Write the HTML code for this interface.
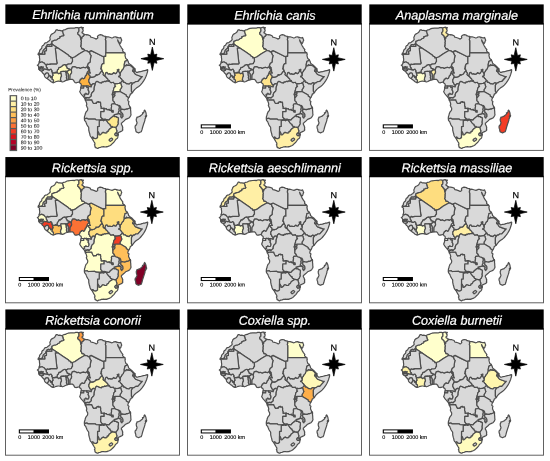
<!DOCTYPE html><html><head><meta charset="utf-8"><title>Prevalence maps</title><style>html,body{margin:0;padding:0;background:#fff}svg{display:block}text{font-family:"Liberation Sans",Arial,sans-serif}</style></head><body>
<svg width="550" height="461" viewBox="0 0 550 461">
<rect width="550" height="461" fill="#fff"/>
<defs>
<path id="DZA" d="M79.6,46.1 74.1,49.3 69.4,52.6 67.1,53.3 65.4,53.5 65.4,52.4 64.6,52.1 63.6,51.7 63.2,50.9 57.8,47.2 52.4,43.5 46.4,39.5 46.4,39.1 46.4,39 46.4,37 49,35.8 50.6,35.6 51.9,35.1 52.5,34.3 54.4,33.6 54.4,32.3 55.4,32.2 56.1,31.6 58.2,31.3 58.5,30.6 58.1,30.3 57.5,28.5 57.4,27.5 56.8,26.4 58.4,25.5 60.1,25.2 61.1,24.5 62.7,24 65.4,23.7 68,23.6 68.8,23.8 70.4,23.2 72.1,23.1 72.7,23.5 73.8,23.4 73.5,24.3 73.7,25.9 73.4,27.3 72.4,28.2 72.5,29.5 73.8,30.5 73.8,30.9 74.8,31.6 75.5,34.6 76,36.1 76.1,36.8 75.8,38.2 76,39 75.8,39.9 75.9,41 75.3,41.7 76.2,42.9 76.3,43.6 76.8,44.5 77.6,44.2 78.9,45Z"/>
<path id="AGO" d="M86.5,95.4 86.9,96.6 87.4,97.6 87.7,98.2 88.3,99.1 89.4,98.9 89.9,98.7 90.8,98.9 91.1,98.5 91.5,97.5 92.5,97.5 92.5,97.2 93.4,97.2 93.2,97.8 95.2,97.7 95.2,98.8 95.5,99.5 95.3,100.5 95.4,101.5 95.9,102.1 95.9,104.1 96.3,104 97,104 97.9,103.8 98.7,103.9 98.8,104.4 98.7,105.2 98.9,106 98.7,106.6 98.8,107.2 95.5,107.2 95.4,112.5 96.5,113.9 97.6,114.9 94.6,115.6 90.7,115.4 89.6,114.6 83.1,114.7 82.9,114.8 81.9,114 80.9,114 79.9,114.2 79.1,114.6 79,113.5 79.2,112 79.8,110.5 79.8,109.8 80.4,108.3 80.7,107.6 81.7,106.5 82.2,105.7 82.4,104.5 82.3,103.5 81.8,102.9 81.4,101.9 81,100.9 81.1,100.6 81.5,99.9 81.1,98.3 80.7,97.1 79.9,96.1 80.1,95.7 80.7,95.5 81.2,95.6 81.8,95.4ZM80.3,95 79.9,95.2 79.4,94 80.1,93.2 80.6,93 81.2,93.5 80.6,93.9 80.3,94.3Z"/>
<path id="BEN" d="M64.6,75 63.3,75.2 62.9,74 63,70.2 62.6,69.8 62.6,69 62,68.4 61.5,67.9 61.7,67 62.3,66.8 62.6,66.1 63.4,65.9 63.8,65.4 64.3,64.9 64.9,64.9 66.1,65.9 66,66.5 66.4,67.5 66.1,68.1 66.2,68.6 65.5,69.6 65,70.1 64.7,71.2 64.7,72.3Z"/>
<path id="BWA" d="M101.5,116.6 101.8,116.9 102.3,117.9 104.1,119.8 104.8,119.9 104.8,120.5 105.3,121.6 106.5,121.9 107.5,122.6 105.3,123.9 103.8,125.1 103.3,126.2 102.8,126.9 101.9,127 101.7,127.8 101.5,128.3 100.5,128.7 99.2,128.6 98.4,128.2 97.7,128 96.9,128.3 96.5,129.1 95.8,129.7 95,130.4 93.8,130.6 93.5,130 93.6,129 92.7,127.4 92.2,127.1 92.2,122.2 93.8,122.1 93.9,116.2 95.1,116.1 97.5,115.5 98.1,116.2 99.2,115.6 99.7,115.6 100.6,115.2 100.8,115.3Z"/>
<path id="BFA" d="M55.8,69.3 54.7,68.9 53.9,68.9 53.4,69.4 52.6,69 52.3,68.4 51.6,68.1 51.5,67.1 52,66.4 51.9,65.8 53.2,64.4 53.4,63.3 53.9,62.9 54.6,63.1 55.3,62.8 55.5,62.3 56.8,61.6 57.1,61 58.6,60.3 59.5,60.1 59.9,60.4 60.9,60.4 60.8,61.2 61,62 61.9,63.1 61.9,63.9 63.8,64.3 63.8,65.4 63.4,65.9 62.6,66.1 62.3,66.8 61.7,67 60.3,67 59.6,66.9 59.1,67.1 58.4,67 55.6,67.1 55.5,68Z"/>
<path id="BDI" d="M107.4,93.1 107.3,91 106.9,90.3 107.9,90.4 108.4,89.4 109.2,89.6 109.3,90.2 109.6,90.6 109.7,91.1 109.3,91.5 108.6,92.4 108.1,93Z"/>
<path id="CMR" d="M81.3,81.7 81.1,81.6 80.1,81.8 79.2,81.6 78.4,81.7 75.8,81.7 76,80.3 75.4,79.2 74.7,78.9 74.3,78.2 73.9,77.9 73.9,77.5 74.4,76.3 75.1,74.7 75.6,74.7 76.5,73.7 77.1,73.6 78,74.3 79.2,73.8 79.3,73.1 79.7,72.4 79.9,71.5 80.8,70.9 81.1,69.7 81.4,69.3 81.7,68.4 82.1,67.4 83.4,66.1 83.5,65.5 83.7,65.2 83.1,64.5 83.1,64 83.6,63.9 84.2,65 84.3,66.1 84.3,67.2 85.1,68.7 84.2,68.7 83.8,68.8 83,68.7 82.7,69.5 83.6,70.4 84.3,70.7 84.6,71.4 85.1,72.6 84.8,73 84,74.7 83.6,75 83.5,76.3 83.7,77 83.5,77.5 84.3,78.4 84.4,79 85,79.9 85.8,80.4 85.8,81.2 86,81.7 85.9,82.6 84.6,82.2 83.3,81.8Z"/>
<path id="CAF" d="M84.8,73 86.2,72.9 86.4,72.5 86.7,72.5 87.1,72.9 89.1,72.2 89.8,71.6 90.7,71 90.5,70.4 90.9,70.3 92.5,70.4 94,69.6 95.2,67.7 96,67.1 97,66.8 97.2,67.5 98.1,68.5 98.1,69.2 97.8,69.9 98,70.5 98.5,70.9 99.7,71.7 100.6,72.4 100.6,72.9 101.7,73.8 102.4,74.5 102.8,75.5 104,76.2 104.2,76.7 103.7,76.9 102.7,76.8 101.5,76.7 100.9,76.8 100.6,77.2 100.1,77.3 99.5,76.9 97.7,77.8 97,77.6 96.7,77.7 96.3,78.7 95.1,78.4 93.9,78.2 92.9,77.6 91.5,77 90.7,77.6 90.1,78.4 89.9,79.6 88.9,79.5 87.8,79.2 86.8,80.1 86,81.7 85.8,81.2 85.8,80.4 85,79.9 84.4,79 84.3,78.4 83.5,77.5 83.7,77 83.5,76.3 83.6,75 84,74.7Z"/>
<path id="TCD" d="M83.6,63.9 83.7,63.1 82.7,63.1 82.7,62 82,61.4 82.7,59.2 84.8,57.6 84.9,55.4 85.5,52 85.8,51.2 85.2,50.7 85.1,50.1 84.5,49.7 84.1,47.1 85.8,46.2 92.2,49.4 98.6,52.6 98.6,59.3 97.3,59.2 96.5,60.4 96.1,61.4 96.4,61.8 95.9,62.3 96.1,63 95.7,63.7 95.5,64.4 96.1,64.3 96.4,64.9 96.4,65.9 97,66.4 97,66.8 96,67.1 95.2,67.7 94,69.6 92.5,70.4 90.9,70.3 90.5,70.4 90.7,71 89.8,71.6 89.1,72.2 87.1,72.9 86.7,72.5 86.4,72.5 86.2,72.9 84.8,73 85.1,72.6 84.6,71.4 84.3,70.7 83.6,70.4 82.7,69.5 83,68.7 83.8,68.8 84.2,68.7 85.1,68.7 84.3,67.2 84.3,66.1 84.2,65Z"/>
<path id="COG" d="M81.2,93.5 80.6,93 80.1,93.2 79.4,94 78.1,92.2 79.3,91.3 78.7,90.1 79.3,89.7 80.4,89.5 80.5,88.8 81.3,89.6 82.8,89.7 83.3,88.9 83.5,87.7 83.3,86.4 82.5,85.4 83.2,83.5 82.8,83.2 81.6,83.3 81.2,82.4 81.3,81.7 83.3,81.8 84.6,82.2 85.9,82.6 86,81.7 86.8,80.1 87.8,79.2 88.9,79.5 89.9,79.6 89.8,80.6 89.3,81.5 89,82.6 88.8,84.1 88.9,85 88.7,85.6 88.6,86.2 88.4,86.7 87.4,87.6 86.6,88.4 85.9,90.1 86,91.4 85.6,92 84.6,92.8 83.7,93.8 83.1,93.6 83,93.1 82.1,93.1 81.6,93.7Z"/>
<path id="COD" d="M109.8,79.6 109.7,81.6 110.3,81.8 109.8,82.4 109.2,82.8 108.6,83.7 108.3,84.5 108.2,85.8 107.8,86.5 107.8,87.8 107.3,88.2 107.3,89.2 107,89.4 106.9,90.3 107.3,91 107.4,93.1 107.7,94.6 107.5,95.5 107.8,96.5 108.8,97.4 109.6,99.5 109,99.3 106.8,99.6 106.4,99.8 106,100.9 106.3,101.6 106,103.6 105.8,105.3 106.3,105.6 107.4,106.3 107.8,106 108,107.8 106.7,107.8 106.1,106.8 105.5,106.1 104.3,105.9 103.9,105 102.9,105.5 101.6,105.3 101.1,104.5 100.1,104.4 99.3,104.4 99.2,103.9 98.7,103.9 97.9,103.8 97,104 96.3,104 95.9,104.1 95.9,102.1 95.4,101.5 95.3,100.5 95.5,99.5 95.2,98.8 95.2,97.7 93.2,97.8 93.4,97.2 92.5,97.2 92.5,97.5 91.5,97.5 91.1,98.5 90.8,98.9 89.9,98.7 89.4,98.9 88.3,99.1 87.7,98.2 87.4,97.6 86.9,96.6 86.5,95.4 81.8,95.4 81.2,95.6 80.7,95.5 80.1,95.7 79.9,95.2 80.3,95 80.3,94.3 80.6,93.9 81.2,93.5 81.6,93.7 82.1,93.1 83,93.1 83.1,93.6 83.7,93.8 84.6,92.8 85.6,92 86,91.4 85.9,90.1 86.6,88.4 87.4,87.6 88.4,86.7 88.6,86.2 88.7,85.6 88.9,85 88.8,84.1 89,82.6 89.3,81.5 89.8,80.6 89.9,79.6 90.1,78.4 90.7,77.6 91.5,77 92.9,77.6 93.9,78.2 95.1,78.4 96.3,78.7 96.7,77.7 97,77.6 97.7,77.8 99.5,76.9 100.1,77.3 100.6,77.2 100.9,76.8 101.5,76.7 102.7,76.8 103.7,76.9 104.2,76.7 105.2,78.1 105.9,78.3 106.4,78 107.1,78.1 108,77.8 108.4,78.5Z"/>
<path id="CIV" d="M55.7,77.1 55,77.1 53.9,76.8 52.8,76.8 50.9,77.1 49.8,77.6 48.2,78.2 47.9,78.2 48,76.8 48.2,76.6 48.1,75.9 47.5,75.2 47,75.1 46.5,74.6 46.8,73.9 46.7,73.1 46.8,72.6 47,72.6 47.1,71.9 47,71.5 47.1,71.3 47.7,71.1 47.3,69.7 47,69.1 47.1,68.5 47.4,68.4 47.6,68.2 48.1,68.5 49.3,68.5 49.6,68 49.9,68 50.3,67.8 50.6,68.5 51,68.3 51.6,68.1 52.3,68.4 52.6,69 53.4,69.4 53.9,68.9 54.7,68.9 55.8,69.3 56.2,71.7 55.5,73.1 55.1,75 55.8,76.4Z"/>
<path id="DJI" d="M129.4,64.2 129.8,64.7 129.8,65.4 128.9,65.8 129.5,66.2 129,67.1 128.6,66.8 128.2,67 127.3,66.9 127.3,66.4 127.2,66 127.7,65.2 128.3,64.4 129,64.6Z"/>
<path id="EGY" d="M119.5,48.5 113.1,48.5 106.9,48.5 100.4,48.5 100.4,42.4 100.4,36.4 99.9,35 100.4,34 100.1,33.3 100.7,32.5 102.8,32.4 104.4,32.9 106,33.4 106.7,33.6 107.9,33.1 108.6,32.6 110,32.5 111.2,32.7 111.6,33.5 112,33 113.3,33.4 114.5,33.5 115.3,33.1 116.4,35.9 115.9,36.6 115.6,37.9 115.1,38.8 114.7,39.1 114.2,38.5 113.5,37.8 112.3,35.4 112.2,35.5 112.8,37.3 113.8,39 115,41.6 115.6,42.5 116.1,43.4 117.6,45.3 117.3,45.6 117.3,46.7 119.2,48.2Z"/>
<path id="GNQ" d="M75.8,81.7 78.4,81.7 78.4,83.7 76.1,83.7 75.5,83.8 75.2,83.5Z"/>
<path id="ERI" d="M118.8,61.3 118.6,60.6 119.3,58.1 119.4,57 120,56.5 121.1,56.2 121.9,55.3 122.9,57.2 123.3,58.7 124.2,59.6 126.4,61.2 127.3,62.1 128.2,63.1 128.7,63.7 129.4,64.2 129,64.6 128.3,64.4 127.7,63.9 127.1,62.9 126.4,62.4 125.9,61.8 124.5,61.1 123.4,61.1 123.1,60.7 122.1,61.1 121.1,60.4 120.6,61.6Z"/>
<path id="ETH" d="M137,72.1 132.5,77.1 130.4,77.2 128.9,78.4 127.9,78.4 127.5,78.9 126.4,78.9 125.7,78.3 124.3,79.1 123.8,79.8 122.7,79.6 122.4,79.4 122,79.5 121.5,79.5 119.5,78 118.3,78 117.8,77.5 117.8,76.5 117,76.2 116,74.4 115.3,74 115,73.4 114.2,72.5 113.2,72.4 113.7,71.5 114.6,71.4 114.8,70.9 114.8,69.4 115.3,67.6 116,67.2 116.2,66.5 116.9,65.2 117.9,64.4 118.5,62.7 118.8,61.3 120.6,61.6 121.1,60.4 122.1,61.1 123.1,60.7 123.4,61.1 124.5,61.1 125.9,61.8 126.4,62.4 127.1,62.9 127.7,63.9 128.3,64.4 127.7,65.2 127.2,66 127.3,66.4 127.3,66.9 128.2,67 128.6,66.8 129,67.1 128.6,67.7 129.2,68.7 129.8,69.5 130.4,70.1 135.7,72.1Z"/>
<path id="GAB" d="M78.4,81.7 79.2,81.6 80.1,81.8 81.1,81.6 81.3,81.7 81.2,82.4 81.6,83.3 82.8,83.2 83.2,83.5 82.5,85.4 83.3,86.4 83.5,87.7 83.3,88.9 82.8,89.7 81.3,89.6 80.5,88.8 80.4,89.5 79.3,89.7 78.7,90.1 79.3,91.3 78.1,92.2 76.5,90.5 75.4,89.1 74.4,87.4 74.5,86.8 74.8,86.3 75.2,85 75.5,83.8 76.1,83.7 78.4,83.7Z"/>
<path id="GMB" d="M33.3,63.4 33.5,62.7 35.2,62.6 35.6,62.2 36.1,62.2 36.7,62.6 37.2,62.6 37.8,62.3 38.1,62.8 37.4,63.2 36.7,63.2 36,62.8 35.4,63.2 35.1,63.2 34.7,63.4Z"/>
<path id="GHA" d="M62,75.5 59.5,76.5 58.6,77.1 57.1,77.6 55.7,77.1 55.8,76.4 55.1,75 55.5,73.1 56.2,71.7 55.8,69.3 55.5,68 55.6,67.1 58.4,67 59.1,67.1 59.6,66.9 60.3,67 60.2,67.5 60.9,68.4 60.9,69.6 61,70.9 61.4,71.5 61.1,73 61.2,73.9 61.6,74.9Z"/>
<path id="GIN" d="M38.3,64.4 39.1,64.4 40.2,64.8 40.6,64.7 40.7,64.6 41.6,64.7 41.8,64.6 41.9,65.2 42.2,65.2 42.6,65 42.9,65 43.3,65.5 44,65.6 44.4,65.2 44.9,65 45.3,64.8 45.7,64.8 46,65.2 46.2,65.7 46.9,66.4 46.5,66.8 46.5,67.3 46.8,67.2 47,67.4 46.9,67.9 47.4,68.4 47.1,68.5 47,69.1 47.3,69.7 47.7,71.1 47.1,71.3 47,71.5 47.1,71.9 47,72.6 46.8,72.6 46.3,72.5 46,73.2 45.5,73.2 45.2,72.9 45.3,72.2 44.6,71.2 44.2,71.3 43.9,71.4 43.4,71.5 43.5,70.9 43.2,70.4 43.3,69.9 42.9,69.2 42.5,68.6 41.2,68.6 40.8,68.9 40.4,69 40.1,69.3 39.9,69.8 39,70.5 38.3,69.5 37.7,68.9 37.3,68.7 36.9,68.3 36.7,67.6 36.5,67.2 36,67 36.7,66.1 37.2,66.2 37.6,65.9 38,65.9 38.2,65.7 38.1,65.1 38.3,64.9Z"/>
<path id="GNB" d="M33.5,64.7 34.4,64.4 34.9,64.5 35.3,64.3 38.3,64.4 38.3,64.9 38.1,65.1 38.2,65.7 38,65.9 37.6,65.9 37.2,66.2 36.7,66.1 36,67 35.2,66.2 34.5,66.1 34.1,65.7 34.1,65.4 33.6,65.1Z"/>
<path id="KEN" d="M123.2,93.4 120.9,91.7 120.8,90.7 115,87.3 114.7,87.1 114.7,85.3 115.2,84.6 115.9,83.5 116.5,82.3 115.8,80.4 115.6,79.5 114.9,78.4 115.9,77.4 117,76.2 117.8,76.5 117.8,77.5 118.3,78 119.5,78 121.5,79.5 122,79.5 122.4,79.4 122.7,79.6 123.8,79.8 124.3,79.1 125.7,78.3 126.4,78.9 127.5,78.9 126.1,80.8 126.1,86.9 127,88.3 125.9,89 125.5,89.7 124.9,89.8 124.7,91 124.2,91.7 123.9,92.8Z"/>
<path id="LBR" d="M47.9,78.2 47.5,78.2 45.8,77.4 44.4,76.1 43,75.2 41.9,74.1 42.3,73.6 42.4,73.1 43.1,72.2 43.9,71.4 44.2,71.3 44.6,71.2 45.3,72.2 45.2,72.9 45.5,73.2 46,73.2 46.3,72.5 46.8,72.6 46.7,73.1 46.8,73.9 46.5,74.6 47,75.1 47.5,75.2 48.1,75.9 48.2,76.6 48,76.8Z"/>
<path id="LBY" d="M100.4,48.5 100.4,51.9 98.6,51.9 98.6,52.6 92.2,49.4 85.8,46.2 84.1,47.1 83,47.7 82.1,46.8 79.6,46.1 78.9,45 77.6,44.2 76.8,44.5 76.3,43.6 76.2,42.9 75.3,41.7 75.9,41 75.8,39.9 76,39 75.8,38.2 76.1,36.8 76,36.1 75.5,34.6 76.3,34.2 76.4,33.5 76.3,32.8 77.4,32.1 77.9,31.6 78.6,31.1 78.7,29.8 80.6,30.4 81.3,30.3 82.6,30.5 84.8,31.3 85.5,32.8 87,33.1 89.2,33.8 90.9,34.7 91.7,34.2 92.5,33.4 92.1,32.2 92.6,31.3 93.8,30.6 94.9,30.3 97,30.7 97.6,31.4 98.2,31.4 98.7,31.7 100.3,31.9 100.7,32.5 100.1,33.3 100.4,34 99.9,35 100.4,36.4 100.4,42.4Z"/>
<path id="MDG" d="M139.8,106.4 140.2,107.2 140.6,108.3 140.9,110.3 141.3,111.1 141.2,111.9 140.9,112.4 140.3,111.4 140,111.9 140.3,113.1 140.2,113.8 139.7,114.2 139.6,115.7 139,117.6 138.2,119.9 137.2,123.1 136.6,125.5 135.9,127.4 134.6,127.8 133.2,128.5 132.3,128.1 131,127.5 130.5,126.6 130.4,125.1 129.9,123.8 129.7,122.6 130,121.3 130.7,121.1 130.8,120.5 131.5,119.2 131.7,118.2 131.3,117.4 131,116.3 130.9,114.7 131.4,113.8 131.6,112.7 132.4,112.7 133.3,112.3 133.9,112 134.6,112 135.5,111.1 136.9,110 137.3,109.2 137.1,108.5 137.8,108.7 138.7,107.5 138.7,106.5 139.3,105.7Z"/>
<path id="MWI" d="M112.9,101 114.5,101.3 114.8,101.8 115.3,102.6 115.8,104.9 115.3,106.1 115.8,108.3 116.3,108.3 116.9,108.8 117.6,110 117.7,112.2 117,112.6 116.5,113.7 115.5,112.7 115.4,111.5 115.7,110.7 115.6,110 115,109.6 114.5,109.8 113.6,109 112.8,108.5 113.3,107 113.8,106.4 113.4,105 113.8,103.6 114,103.2 113.6,101.8Z"/>
<path id="MLI" d="M41.8,64.6 41.9,64.1 41.8,63.4 41.2,63 40.8,62 40.8,60.9 41.3,60.6 41.6,59.6 42.1,59.6 43.2,60.1 44.1,59.7 44.7,59.9 45,59.5 51.4,59.5 51.8,58.3 51.5,58.1 50.7,50.8 49.9,43.6 52.4,43.5 57.8,47.2 63.2,50.9 63.6,51.7 64.6,52.1 65.4,52.4 65.4,53.5 67.1,53.3 67.2,57.2 66.3,58.3 66.1,59.3 64.7,59.6 62.5,59.8 61.9,60.4 60.9,60.4 59.9,60.4 59.5,60.1 58.6,60.3 57.1,61 56.8,61.6 55.5,62.3 55.3,62.8 54.6,63.1 53.9,62.9 53.4,63.3 53.2,64.4 51.9,65.8 52,66.4 51.5,67.1 51.6,68.1 51,68.3 50.6,68.5 50.3,67.8 49.9,68 49.6,68 49.3,68.5 48.1,68.5 47.6,68.2 47.4,68.4 46.9,67.9 47,67.4 46.8,67.2 46.5,67.3 46.5,66.8 46.9,66.4 46.2,65.7 46,65.2 45.7,64.8 45.3,64.8 44.9,65 44.4,65.2 44,65.6 43.3,65.5 42.9,65 42.6,65 42.2,65.2 41.9,65.2Z"/>
<path id="MRT" d="M32.9,50.2 33.3,49.7 39.5,49.7 39.2,47.2 39.6,46.4 41.1,46.2 41.1,41.9 46.4,42 46.4,39.5 52.4,43.5 49.9,43.6 50.7,50.8 51.5,58.1 51.8,58.3 51.4,59.5 45,59.5 44.7,59.9 44.1,59.7 43.2,60.1 42.1,59.6 41.6,59.6 41.3,60.6 40.8,60.9 39.7,59.8 38.7,58.6 37.7,58.1 36.9,57.6 36,57.6 35.2,58 34.4,57.9 33.9,58.4 33.7,57.5 34.2,56.7 34.4,55.1 34.2,53.4 34,52.6 34.2,51.7 33.8,50.9Z"/>
<path id="MAR" d="M56.8,26.4 57.4,27.5 57.5,28.5 58.1,30.3 58.5,30.6 58.2,31.3 56.1,31.6 55.4,32.2 54.4,32.3 54.4,33.6 52.5,34.3 51.9,35.1 50.6,35.6 49,35.8 46.4,37 46.4,39 46.1,39 46.2,39.9 45.2,40 44.7,40.4 43.9,40.4 43.4,40.2 42,40.3 41.5,41.6 41,41.8 40.2,43.9 38,45.7 37.5,48 36.8,48.8 36.6,49.4 33,49.5 33.1,48.7 33.7,48.3 34.2,47.4 34.1,46.8 34.6,45.6 35.5,44.6 36.1,44.3 36.5,43.3 36.5,42.4 37.1,41.4 38.2,40.8 39.2,39.1 39.2,39 40,38.4 41.5,38.2 42.8,37.1 43.6,36.6 44.9,35.2 44.5,33.1 45.2,31.7 45.4,30.8 46.4,29.7 48,28.9 49.2,28.2 50.3,26.5 50.8,25.4 52,25.4 52.9,26.1 54.5,26 56.1,26.4Z"/>
<path id="ESH" d="M46.4,39 46.4,39.1 46.4,39.5 46.4,42 41.1,41.9 41.1,46.2 39.6,46.4 39.2,47.2 39.5,49.7 33.3,49.7 32.9,50.2 33,49.5 36.6,49.4 36.8,48.8 37.5,48 38,45.7 40.2,43.9 41,41.8 41.5,41.6 42,40.3 43.4,40.2 43.9,40.4 44.7,40.4 45.2,40 46.2,39.9 46.1,39Z"/>
<path id="MOZ" d="M115.8,104.9 117,104.7 118.9,105.2 119.3,105 120.4,104.9 121,104.4 122,104.5 123.7,103.8 125,102.8 125.3,103.6 125.2,105.3 125.4,106.7 125.5,109.4 125.7,110.2 125.3,111.4 124.6,112.5 123.6,113.6 122.2,114.2 120.3,115 118.5,116.8 117.9,117.2 116.8,118.3 116.1,118.7 116,119.9 116.8,121.2 117.1,122.2 117.1,122.7 117.4,122.6 117.3,124.3 117.1,125 117.5,125.3 117.2,126 116.5,126.6 115.2,127.2 113.3,128.1 112.6,128.7 112.7,129.4 113.1,129.5 113,130.4 111.8,130.4 111.6,129.7 111.4,128.9 111.3,128.3 111.5,126.4 111.1,125.2 110.4,122.9 112.1,121 112.5,119.8 112.7,119.6 112.9,118.6 112.6,118.1 112.7,116.9 113,115.7 113,113.6 112.2,113 111.4,112.9 111.1,112.5 110.3,112.1 109,112.2 108.9,111.6 108.7,110.4 113.6,109 114.5,109.8 115,109.6 115.6,110 115.7,110.7 115.4,111.5 115.5,112.7 116.5,113.7 117,112.6 117.7,112.2 117.6,110 116.9,108.8 116.3,108.3 115.8,108.3 115.3,106.1Z"/>
<path id="NAM" d="M92.2,127.1 92.2,133.3 90.8,134.2 89.9,134.3 88.9,134 88.2,133.9 87.9,133.1 87.3,132.7 86.5,133.5 85.3,132.2 84.7,131 84.4,129.4 84,128.2 83.4,125.6 83.4,123.6 83.2,122.6 82.6,122 81.7,120.6 80.9,118.6 80.5,117.5 79.2,115.9 79.1,114.6 79.9,114.2 80.9,114 81.9,114 82.9,114.8 83.1,114.7 89.6,114.6 90.7,115.4 94.6,115.6 97.6,114.9 98.9,114.6 99.9,114.7 100.5,115 100.6,115.2 99.7,115.6 99.2,115.6 98.1,116.2 97.5,115.5 95.1,116.1 93.9,116.2 93.8,122.1 92.2,122.2Z"/>
<path id="NER" d="M84.1,47.1 84.5,49.7 85.1,50.1 85.2,50.7 85.8,51.2 85.5,52 84.9,55.4 84.8,57.6 82.7,59.2 82,61.4 82.7,62 82.7,63.1 83.7,63.1 83.6,63.9 83.1,64 83.1,64.5 82.8,64.6 81.7,62.7 81.3,62.7 80,63.6 78.8,63.1 77.9,63 77.5,63.2 76.5,63.2 75.6,63.9 74.8,64 72.8,63.1 72.1,63.5 71.2,63.5 70.6,62.8 69,62.2 67.3,62.4 66.9,62.8 66.7,63.7 66.2,64.4 66.1,65.9 64.9,64.9 64.3,64.9 63.8,65.4 63.8,64.3 61.9,63.9 61.9,63.1 61,62 60.8,61.2 60.9,60.4 61.9,60.4 62.5,59.8 64.7,59.6 66.1,59.3 66.3,58.3 67.2,57.2 67.1,53.3 69.4,52.6 74.1,49.3 79.6,46.1 82.1,46.8 83,47.7Z"/>
<path id="NGA" d="M64.6,75 64.7,72.3 64.7,71.2 65,70.1 65.5,69.6 66.2,68.6 66.1,68.1 66.4,67.5 66,66.5 66.1,65.9 66.2,64.4 66.7,63.7 66.9,62.8 67.3,62.4 69,62.2 70.6,62.8 71.2,63.5 72.1,63.5 72.8,63.1 74.8,64 75.6,63.9 76.5,63.2 77.5,63.2 77.9,63 78.8,63.1 80,63.6 81.3,62.7 81.7,62.7 82.8,64.6 83.1,64.5 83.7,65.2 83.5,65.5 83.4,66.1 82.1,67.4 81.7,68.4 81.4,69.3 81.1,69.7 80.8,70.9 79.9,71.5 79.7,72.4 79.3,73.1 79.2,73.8 78,74.3 77.1,73.6 76.5,73.7 75.6,74.7 75.1,74.7 74.4,76.3 73.9,77.5 72.3,78.1 71.7,78 71.1,78.4 69.8,78.3 68.9,77.3 68.4,76.1 67.2,75 66,75Z"/>
<path id="RWA" d="M109.1,87.4 109.8,88.4 109.7,89.3 109.2,89.6 108.4,89.4 107.9,90.4 106.9,90.3 107,89.4 107.3,89.2 107.3,88.2 107.8,87.8 108.2,87.9Z"/>
<path id="SEN" d="M33.5,62.7 32.8,61.4 32,60.8 32.7,60.4 33.5,59.3 33.9,58.4 34.4,57.9 35.2,58 36,57.6 36.9,57.6 37.7,58.1 38.7,58.6 39.7,59.8 40.8,60.9 40.8,62 41.2,63 41.8,63.4 41.9,64.1 41.8,64.6 41.6,64.7 40.7,64.6 40.6,64.7 40.2,64.8 39.1,64.4 38.3,64.4 35.3,64.3 34.9,64.5 34.4,64.4 33.5,64.7 33.3,63.4 34.7,63.4 35.1,63.2 35.4,63.2 36,62.8 36.7,63.2 37.4,63.2 38.1,62.8 37.8,62.3 37.2,62.6 36.7,62.6 36.1,62.2 35.6,62.2 35.2,62.6Z"/>
<path id="SLE" d="M41.9,74.1 41.5,74 40.4,73.3 39.5,72.4 39.2,71.8 39,70.5 39.9,69.8 40.1,69.3 40.4,69 40.8,68.9 41.2,68.6 42.5,68.6 42.9,69.2 43.3,69.9 43.2,70.4 43.5,70.9 43.4,71.5 43.9,71.4 43.1,72.2 42.4,73.1 42.3,73.6Z"/>
<path id="SOM" d="M127,88.3 126.1,86.9 126.1,80.8 127.5,78.9 127.9,78.4 128.9,78.4 130.4,77.2 132.5,77.1 137,72.1 135.7,72.1 130.4,70.1 129.8,69.5 129.2,68.7 128.6,67.7 129,67.1 129.5,66.2 130.1,66.6 130.4,67.2 131.1,68 131.9,68 133.4,67.5 135.2,67.3 136.6,66.8 137.4,66.7 137.9,66.4 138.9,66.3 139.4,66.3 140.1,66 141,65.9 141.7,65.3 142.3,65.3 142.4,65.8 142.2,66.7 142.2,67.6 141.9,68.2 141.4,70 140.7,71.9 139.7,74.1 138.3,76.5 136.9,78.4 135,80.7 133.4,82.1 131,83.7 129.5,85 127.8,87 127.4,87.9Z"/>
<path id="ZAF" d="M86.5,133.5 87.3,132.7 87.9,133.1 88.2,133.9 88.9,134 89.9,134.3 90.8,134.2 92.2,133.3 92.2,127.1 92.7,127.4 93.6,129 93.5,130 93.8,130.6 95,130.4 95.8,129.7 96.5,129.1 96.9,128.3 97.7,128 98.4,128.2 99.2,128.6 100.5,128.7 101.5,128.3 101.7,127.8 101.9,127 102.8,126.9 103.3,126.2 103.8,125.1 105.3,123.9 107.5,122.6 108.2,122.6 109,122.9 109.5,122.7 110.4,122.9 111.1,125.2 111.5,126.4 111.3,128.3 111.4,128.9 110.6,128.6 110.1,128.7 110,129.2 109.5,129.8 109.6,130.4 110.5,131.3 111.4,131.2 111.8,130.4 113,130.4 112.6,131.6 112.4,133 112,133.8 110.9,134.7 110.6,134.9 109.9,135.7 109.4,136.6 108.5,137.8 106.7,139.5 105.6,140.6 104.4,141.3 102.7,142 101.9,142.1 101.7,142.5 100.7,142.3 99.9,142.6 98.2,142.3 97.2,142.5 96.5,142.4 94.9,143.1 93.5,143.3 92.5,144 91.8,144 91.1,143.4 90.6,143.4 89.9,142.6 89.8,142.8 89.6,142.4 89.6,141.4 89.1,140.3 89.6,140 89.5,138.7 88.5,137.1 87.7,135.7Z"/>
<path id="SSD" d="M109.8,79.6 108.4,78.5 108,77.8 107.1,78.1 106.4,78 105.9,78.3 105.2,78.1 104.2,76.7 104,76.2 102.8,75.5 102.4,74.5 101.7,73.8 100.6,72.9 100.6,72.4 99.7,71.7 98.6,71 99.1,70.8 99.7,70.5 100.1,69 100.5,68.2 101.7,68 102,68.5 102.8,69.5 103.2,69.6 103.8,69.3 105,69.4 105.2,69.7 106.8,69.7 106.8,69.4 107.7,69 107.8,68.6 108.4,68.2 109.8,69.2 110.6,69 111.4,67.8 112.3,66.9 112.2,65.9 111.8,65.4 112.7,65.3 112.9,64.9 113.6,65 113.4,66.3 113.6,67.5 114.4,68.2 114.6,68.7 114.6,69.6 114.8,69.6 114.8,70.9 114.6,71.4 113.7,71.5 113.2,72.4 114.2,72.5 115,73.4 115.3,74 116,74.4 117,76.2 115.9,77.4 114.9,78.4 113.9,79.1 112.8,79.1 111.5,79.5 110.4,79.1Z"/>
<path id="SDN" d="M99.7,71.7 98.5,70.9 98,70.5 97.8,69.9 98.1,69.2 98.1,68.5 97.2,67.5 97,66.8 97,66.4 96.4,65.9 96.4,64.9 96.1,64.3 95.5,64.4 95.7,63.7 96.1,63 95.9,62.3 96.4,61.8 96.1,61.4 96.5,60.4 97.3,59.2 98.6,59.3 98.6,52.6 98.6,51.9 100.4,51.9 100.4,48.5 106.9,48.5 113.1,48.5 119.5,48.5 120,50.2 119.6,50.5 119.9,52.2 120.5,54.2 121.1,54.6 121.9,55.3 121.1,56.2 120,56.5 119.4,57 119.3,58.1 118.6,60.6 118.8,61.3 118.5,62.7 117.9,64.4 116.9,65.2 116.2,66.5 116,67.2 115.3,67.6 114.8,69.4 114.8,69.6 114.6,69.6 114.6,68.7 114.4,68.2 113.6,67.5 113.4,66.3 113.6,65 112.9,64.9 112.7,65.3 111.8,65.4 112.2,65.9 112.3,66.9 111.4,67.8 110.6,69 109.8,69.2 108.4,68.2 107.8,68.6 107.7,69 106.8,69.4 106.8,69.7 105.2,69.7 105,69.4 103.8,69.3 103.2,69.6 102.8,69.5 102,68.5 101.7,68 100.5,68.2 100.1,69 99.7,70.5 99.1,70.8 98.6,71Z"/>
<path id="TZA" d="M114.7,87.1 115,87.3 120.8,90.7 120.9,91.7 123.2,93.4 122.5,95.4 122.6,96.4 123.6,97 123.6,97.4 123.2,98.4 123.3,99 123.2,99.8 123.8,100.8 124.4,102.5 125,102.8 123.7,103.8 122,104.5 121,104.4 120.4,104.9 119.3,105 118.9,105.2 117,104.7 115.8,104.9 115.3,102.6 114.8,101.8 114.5,101.3 112.9,101 112,100.5 110.9,100.2 110.3,99.9 109.6,99.5 108.8,97.4 107.8,96.5 107.5,95.5 107.7,94.6 107.4,93.1 108.1,93 108.6,92.4 109.3,91.5 109.7,91.1 109.6,90.6 109.3,90.2 109.2,89.6 109.7,89.3 109.8,88.4 109.1,87.4 109.7,87.2 111.4,87.2Z"/>
<path id="TGO" d="M61.7,67 61.5,67.9 62,68.4 62.6,69 62.6,69.8 63,70.2 62.9,74 63.3,75.2 62,75.5 61.6,74.9 61.2,73.9 61.1,73 61.4,71.5 61,70.9 60.9,69.6 60.9,68.4 60.2,67.5 60.3,67Z"/>
<path id="TUN" d="M75.5,34.6 74.8,31.6 73.8,30.9 73.8,30.5 72.5,29.5 72.4,28.2 73.4,27.3 73.7,25.9 73.5,24.3 73.8,23.4 75.6,22.8 76.7,23 76.6,23.8 78,23.2 78.1,23.5 77.3,24.3 77.3,25.1 77.9,25.5 77.6,27 76.6,27.8 76.9,28.7 77.7,28.8 78.1,29.6 78.7,29.8 78.6,31.1 77.9,31.6 77.4,32.1 76.3,32.8 76.4,33.5 76.3,34.2Z"/>
<path id="UGA" d="M114.7,87.1 111.4,87.2 109.7,87.2 109.1,87.4 108.2,87.9 107.8,87.8 107.8,86.5 108.2,85.8 108.3,84.5 108.6,83.7 109.2,82.8 109.8,82.4 110.3,81.8 109.7,81.6 109.8,79.6 110.4,79.1 111.5,79.5 112.8,79.1 113.9,79.1 114.9,78.4 115.6,79.5 115.8,80.4 116.5,82.3 115.9,83.5 115.2,84.6 114.7,85.3Z"/>
<path id="ZMB" d="M109.6,99.5 110.3,99.9 110.9,100.2 112,100.5 112.9,101 113.6,101.8 114,103.2 113.8,103.6 113.4,105 113.8,106.4 113.3,107 112.8,108.5 113.6,109 108.7,110.4 108.9,111.6 107.7,111.8 106.8,112.5 106.6,113 106,113.2 104.6,114.5 103.7,115.6 103.2,115.7 102.6,115.5 100.8,115.3 100.6,115.2 100.5,115 99.9,114.7 98.9,114.6 97.6,114.9 96.5,113.9 95.4,112.5 95.5,107.2 98.8,107.2 98.7,106.6 98.9,106 98.7,105.2 98.8,104.4 98.7,103.9 99.2,103.9 99.3,104.4 100.1,104.4 101.1,104.5 101.6,105.3 102.9,105.5 103.9,105 104.3,105.9 105.5,106.1 106.1,106.8 106.7,107.8 108,107.8 107.8,106 107.4,106.3 106.3,105.6 105.8,105.3 106,103.6 106.3,101.6 106,100.9 106.4,99.8 106.8,99.6 109,99.3Z"/>
<path id="ZWE" d="M110.4,122.9 109.5,122.7 109,122.9 108.2,122.6 107.5,122.6 106.5,121.9 105.3,121.6 104.8,120.5 104.8,119.9 104.1,119.8 102.3,117.9 101.8,116.9 101.5,116.6 100.8,115.3 102.6,115.5 103.2,115.7 103.7,115.6 104.6,114.5 106,113.2 106.6,113 106.8,112.5 107.7,111.8 108.9,111.6 109,112.2 110.3,112.1 111.1,112.5 111.4,112.9 112.2,113 113,113.6 113,115.7 112.7,116.9 112.6,118.1 112.9,118.6 112.7,119.6 112.5,119.8 112.1,121Z"/>
<path id="SWZ" d="M111.8,130.4 111.4,131.2 110.5,131.3 109.6,130.4 109.5,129.8 110,129.2 110.1,128.7 110.6,128.6 111.4,128.9 111.6,129.7Z"/>
<path id="LSO" d="M106.8,134.1 107.4,134.7 106.9,135.5 106.6,136 105.7,136.3 105.4,136.8 104.8,137 103.6,135.7 104.5,134.6 105.4,134 106.1,133.6Z"/>
<g id="comp"><path d="M0,-11.7 L1.7,-3.9 L4.6,-4.6 L3.9,-1.7 L11.4,0 L3.9,1.7 L4.6,4.6 L1.7,3.9 L0,11.7 L-1.7,3.9 L-4.6,4.6 L-3.9,1.7 L-11.4,0 L-3.9,-1.7 L-4.6,-4.6 L-1.7,-3.9 Z" fill="#000" stroke="#000" stroke-width="0.7" stroke-linejoin="round"/><text transform="skewY(0.05)" x="0" y="-13.8" font-size="9.1" text-anchor="middle" fill="#000" stroke="#000" stroke-width="0.2">N</text></g>
<g id="sbar"><rect x="0" y="0" width="30.2" height="4.05" fill="#000"/><rect x="1.1" y="1" width="13.6" height="2.05" fill="#fff"/><g font-size="5.45" fill="#000" stroke="#000" stroke-width="0.12"><text transform="skewY(0.05)" x="1" y="9.55" text-anchor="middle">0</text><text transform="skewY(0.05)" x="15.1" y="9.55" text-anchor="middle">1000</text><text transform="skewY(0.05)" x="23.5" y="9.55">2000 km</text></g></g>
</defs>
<g transform="translate(5.35,4.4)">
<rect x="0" y="0" width="174.4" height="19.5" fill="#000"/>
<text transform="skewY(0.05)" x="87.6" y="14.7" font-size="12.65" font-style="italic" fill="#fff" stroke="#fff" stroke-width="0.18" text-anchor="middle">Ehrlichia ruminantium</text>
<g transform="translate(0,0)" fill="#d9d9d9" stroke="#4e4e4e" stroke-width="1.2" stroke-linejoin="round">
<use href="#DZA"/>
<use href="#AGO"/>
<use href="#BEN" fill="#FFFBBE"/>
<use href="#BWA"/>
<use href="#BFA" fill="#FFFBBE"/>
<use href="#BDI"/>
<use href="#CMR" fill="#FDB242"/>
<use href="#CAF"/>
<use href="#TCD"/>
<use href="#COG"/>
<use href="#COD"/>
<use href="#CIV" fill="#FFFBBE"/>
<use href="#DJI"/>
<use href="#EGY"/>
<use href="#GNQ"/>
<use href="#ERI"/>
<use href="#ETH"/>
<use href="#GAB"/>
<use href="#GMB"/>
<use href="#GHA"/>
<use href="#GIN"/>
<use href="#GNB"/>
<use href="#KEN"/>
<use href="#LBR"/>
<use href="#LBY"/>
<use href="#MDG"/>
<use href="#MWI"/>
<use href="#MLI"/>
<use href="#MRT"/>
<use href="#MAR"/>
<use href="#ESH"/>
<use href="#MOZ"/>
<use href="#NAM"/>
<use href="#NER"/>
<use href="#NGA"/>
<use href="#RWA"/>
<use href="#SEN"/>
<use href="#SLE"/>
<use href="#SOM"/>
<use href="#ZAF" fill="#FFF9B4"/>
<use href="#SSD"/>
<use href="#SDN" fill="#FFFFCC"/>
<use href="#TZA"/>
<use href="#TGO"/>
<use href="#TUN"/>
<use href="#UGA" fill="#FFFFCC"/>
<use href="#ZMB"/>
<use href="#ZWE" fill="#FEE98F"/>
<use href="#SWZ"/>
<use href="#LSO"/>
</g>
<use href="#comp" x="147.0" y="54.3"/>
<text transform="skewY(0.05)" x="2.8" y="86.9" font-size="4.8" fill="#222" stroke="#222" stroke-width="0.05">Prevalence (%)</text>
<rect x="4.2" y="90.7" width="7.6" height="56.0" fill="#5a5a5a"/>
<rect x="5.6" y="91.85" width="4.9" height="4.3" fill="#FFFFCC"/>
<text transform="skewY(0.05)" x="15.3" y="95.90" font-size="5.2" fill="#1a1a1a" stroke="#1a1a1a" stroke-width="0.08">0 to 10</text>
<rect x="5.6" y="97.33" width="4.9" height="4.3" fill="#FFEFA5"/>
<text transform="skewY(0.05)" x="15.3" y="101.38" font-size="5.2" fill="#1a1a1a" stroke="#1a1a1a" stroke-width="0.08">10 to 20</text>
<rect x="5.6" y="102.81" width="4.9" height="4.3" fill="#FEDD7F"/>
<text transform="skewY(0.05)" x="15.3" y="106.86" font-size="5.2" fill="#1a1a1a" stroke="#1a1a1a" stroke-width="0.08">20 to 30</text>
<rect x="5.6" y="108.29" width="4.9" height="4.3" fill="#FEBF5A"/>
<text transform="skewY(0.05)" x="15.3" y="112.34" font-size="5.2" fill="#1a1a1a" stroke="#1a1a1a" stroke-width="0.08">30 to 40</text>
<rect x="5.6" y="113.77" width="4.9" height="4.3" fill="#FD9D43"/>
<text transform="skewY(0.05)" x="15.3" y="117.82" font-size="5.2" fill="#1a1a1a" stroke="#1a1a1a" stroke-width="0.08">40 to 50</text>
<rect x="5.6" y="119.25" width="4.9" height="4.3" fill="#FC7134"/>
<text transform="skewY(0.05)" x="15.3" y="123.30" font-size="5.2" fill="#1a1a1a" stroke="#1a1a1a" stroke-width="0.08">50 to 60</text>
<rect x="5.6" y="124.73" width="4.9" height="4.3" fill="#F33C25"/>
<text transform="skewY(0.05)" x="15.3" y="128.78" font-size="5.2" fill="#1a1a1a" stroke="#1a1a1a" stroke-width="0.08">60 to 70</text>
<rect x="5.6" y="130.21" width="4.9" height="4.3" fill="#DA141E"/>
<text transform="skewY(0.05)" x="15.3" y="134.26" font-size="5.2" fill="#1a1a1a" stroke="#1a1a1a" stroke-width="0.08">70 to 80</text>
<rect x="5.6" y="135.69" width="4.9" height="4.3" fill="#B60026"/>
<text transform="skewY(0.05)" x="15.3" y="139.74" font-size="5.2" fill="#1a1a1a" stroke="#1a1a1a" stroke-width="0.08">80 to 90</text>
<rect x="5.6" y="141.17" width="4.9" height="4.3" fill="#800026"/>
<text transform="skewY(0.05)" x="15.3" y="145.22" font-size="5.2" fill="#1a1a1a" stroke="#1a1a1a" stroke-width="0.08">90 to 100</text>
</g>
<g transform="translate(187.3,4.4)">
<rect x="0.20" y="19.20" width="174.00" height="126.80" fill="#fff" stroke="#5a5a5a" stroke-width="0.95"/>
<rect x="0" y="0" width="174.4" height="20.2" fill="#000"/>
<text transform="skewY(0.05)" x="87.6" y="15.2" font-size="12.65" font-style="italic" fill="#fff" stroke="#fff" stroke-width="0.18" text-anchor="middle">Ehrlichia canis</text>
<g transform="translate(0,0)" fill="#d9d9d9" stroke="#4e4e4e" stroke-width="1.2" stroke-linejoin="round">
<use href="#DZA" fill="#FFFFCC"/>
<use href="#AGO"/>
<use href="#BEN"/>
<use href="#BWA"/>
<use href="#BFA"/>
<use href="#BDI"/>
<use href="#CMR" fill="#FEE48C"/>
<use href="#CAF"/>
<use href="#TCD"/>
<use href="#COG"/>
<use href="#COD"/>
<use href="#CIV" fill="#FEDD7F"/>
<use href="#DJI"/>
<use href="#EGY"/>
<use href="#GNQ"/>
<use href="#ERI"/>
<use href="#ETH"/>
<use href="#GAB"/>
<use href="#GMB"/>
<use href="#GHA"/>
<use href="#GIN"/>
<use href="#GNB"/>
<use href="#KEN"/>
<use href="#LBR"/>
<use href="#LBY"/>
<use href="#MDG"/>
<use href="#MWI"/>
<use href="#MLI"/>
<use href="#MRT"/>
<use href="#MAR"/>
<use href="#ESH"/>
<use href="#MOZ"/>
<use href="#NAM"/>
<use href="#NER"/>
<use href="#NGA"/>
<use href="#RWA"/>
<use href="#SEN"/>
<use href="#SLE"/>
<use href="#SOM"/>
<use href="#ZAF" fill="#FFEFA5"/>
<use href="#SSD"/>
<use href="#SDN"/>
<use href="#TZA"/>
<use href="#TGO"/>
<use href="#TUN"/>
<use href="#UGA"/>
<use href="#ZMB"/>
<use href="#ZWE"/>
<use href="#SWZ"/>
<use href="#LSO"/>
</g>
<use href="#comp" x="146.5" y="55.0"/>
<use href="#sbar" x="13.45" y="119.95"/>
</g>
<g transform="translate(369.3,4.4)">
<rect x="0.20" y="19.20" width="174.00" height="126.80" fill="#fff" stroke="#5a5a5a" stroke-width="0.95"/>
<rect x="0" y="0" width="174.4" height="20.2" fill="#000"/>
<text transform="skewY(0.05)" x="87.6" y="15.2" font-size="12.65" font-style="italic" fill="#fff" stroke="#fff" stroke-width="0.18" text-anchor="middle">Anaplasma marginale</text>
<g transform="translate(0,0)" fill="#d9d9d9" stroke="#4e4e4e" stroke-width="1.2" stroke-linejoin="round">
<use href="#DZA"/>
<use href="#AGO"/>
<use href="#BEN" fill="#FFEFA5"/>
<use href="#BWA"/>
<use href="#BFA"/>
<use href="#BDI"/>
<use href="#CMR"/>
<use href="#CAF"/>
<use href="#TCD"/>
<use href="#COG"/>
<use href="#COD"/>
<use href="#CIV" fill="#FFFFCC"/>
<use href="#DJI"/>
<use href="#EGY"/>
<use href="#GNQ"/>
<use href="#ERI"/>
<use href="#ETH"/>
<use href="#GAB"/>
<use href="#GMB"/>
<use href="#GHA"/>
<use href="#GIN"/>
<use href="#GNB"/>
<use href="#KEN"/>
<use href="#LBR"/>
<use href="#LBY"/>
<use href="#MDG" fill="#F33C25"/>
<use href="#MWI"/>
<use href="#MLI"/>
<use href="#MRT"/>
<use href="#MAR"/>
<use href="#ESH"/>
<use href="#MOZ"/>
<use href="#NAM"/>
<use href="#NER"/>
<use href="#NGA"/>
<use href="#RWA"/>
<use href="#SEN"/>
<use href="#SLE"/>
<use href="#SOM"/>
<use href="#ZAF" fill="#FFFFCC"/>
<use href="#SSD"/>
<use href="#SDN"/>
<use href="#TZA"/>
<use href="#TGO"/>
<use href="#TUN" fill="#FFEFA5"/>
<use href="#UGA"/>
<use href="#ZMB"/>
<use href="#ZWE"/>
<use href="#SWZ"/>
<use href="#LSO"/>
</g>
<use href="#comp" x="146.5" y="55.0"/>
<use href="#sbar" x="13.45" y="119.95"/>
</g>
<g transform="translate(5.35,157.05)">
<rect x="0.15" y="19.20" width="174.00" height="126.55" fill="#fff" stroke="#5a5a5a" stroke-width="0.95"/>
<rect x="0" y="0" width="174.4" height="20.2" fill="#000"/>
<text transform="skewY(0.05)" x="87.6" y="15.2" font-size="12.65" font-style="italic" fill="#fff" stroke="#fff" stroke-width="0.18" text-anchor="middle">Rickettsia spp.</text>
<g transform="translate(0,-0.25)" fill="#d9d9d9" stroke="#4e4e4e" stroke-width="1.2" stroke-linejoin="round">
<use href="#DZA" fill="#FFFFCC"/>
<use href="#AGO" fill="#FFFFCC"/>
<use href="#BEN" fill="#F33C25"/>
<use href="#BWA"/>
<use href="#BFA"/>
<use href="#BDI"/>
<use href="#CMR" fill="#FFFFCC"/>
<use href="#CAF" fill="#FEDD7F"/>
<use href="#TCD" fill="#FEDD7F"/>
<use href="#COG"/>
<use href="#COD" fill="#FFFFCC"/>
<use href="#CIV" fill="#FEBF5A"/>
<use href="#DJI"/>
<use href="#EGY" fill="#FFFFCC"/>
<use href="#GNQ"/>
<use href="#ERI"/>
<use href="#ETH" fill="#FEDD7F"/>
<use href="#GAB" fill="#FFFFCC"/>
<use href="#GMB"/>
<use href="#GHA" fill="#FFFFCC"/>
<use href="#GIN" fill="#F33C25"/>
<use href="#GNB"/>
<use href="#KEN" fill="#FFFFCC"/>
<use href="#LBR" fill="#FFFFCC"/>
<use href="#LBY"/>
<use href="#MDG" fill="#800026"/>
<use href="#MWI"/>
<use href="#MLI"/>
<use href="#MRT"/>
<use href="#MAR" fill="#FFFFCC"/>
<use href="#ESH"/>
<use href="#MOZ" fill="#FEBF5A"/>
<use href="#NAM"/>
<use href="#NER"/>
<use href="#NGA" fill="#FC7134"/>
<use href="#RWA"/>
<use href="#SEN" fill="#FFFFCC"/>
<use href="#SLE"/>
<use href="#SOM"/>
<use href="#ZAF" fill="#FFFFCC"/>
<use href="#SSD"/>
<use href="#SDN" fill="#FEDD7F"/>
<use href="#TZA" fill="#FEBF5A"/>
<use href="#TGO"/>
<use href="#TUN" fill="#FEDD7F"/>
<use href="#UGA" fill="#F33C25"/>
<use href="#ZMB"/>
<use href="#ZWE"/>
<use href="#SWZ"/>
<use href="#LSO"/>
</g>
<use href="#comp" x="146.5" y="55.0"/>
<use href="#sbar" x="13.45" y="119.95"/>
</g>
<g transform="translate(187.3,157.05)">
<rect x="0.20" y="19.20" width="174.00" height="126.55" fill="#fff" stroke="#5a5a5a" stroke-width="0.95"/>
<rect x="0" y="0" width="174.4" height="20.2" fill="#000"/>
<text transform="skewY(0.05)" x="87.6" y="15.2" font-size="12.65" font-style="italic" fill="#fff" stroke="#fff" stroke-width="0.18" text-anchor="middle">Rickettsia aeschlimanni</text>
<g transform="translate(0,-0.25)" fill="#d9d9d9" stroke="#4e4e4e" stroke-width="1.2" stroke-linejoin="round">
<use href="#DZA" fill="#FFEFA5"/>
<use href="#AGO"/>
<use href="#BEN"/>
<use href="#BWA"/>
<use href="#BFA"/>
<use href="#BDI"/>
<use href="#CMR"/>
<use href="#CAF"/>
<use href="#TCD"/>
<use href="#COG"/>
<use href="#COD"/>
<use href="#CIV" fill="#FFFFCC"/>
<use href="#DJI"/>
<use href="#EGY"/>
<use href="#GNQ"/>
<use href="#ERI"/>
<use href="#ETH"/>
<use href="#GAB"/>
<use href="#GMB"/>
<use href="#GHA"/>
<use href="#GIN"/>
<use href="#GNB"/>
<use href="#KEN"/>
<use href="#LBR"/>
<use href="#LBY"/>
<use href="#MDG"/>
<use href="#MWI"/>
<use href="#MLI"/>
<use href="#MRT"/>
<use href="#MAR" fill="#FFEFA5"/>
<use href="#ESH"/>
<use href="#MOZ"/>
<use href="#NAM"/>
<use href="#NER"/>
<use href="#NGA"/>
<use href="#RWA"/>
<use href="#SEN"/>
<use href="#SLE"/>
<use href="#SOM"/>
<use href="#ZAF"/>
<use href="#SSD"/>
<use href="#SDN"/>
<use href="#TZA"/>
<use href="#TGO"/>
<use href="#TUN" fill="#FFEFA5"/>
<use href="#UGA"/>
<use href="#ZMB"/>
<use href="#ZWE"/>
<use href="#SWZ"/>
<use href="#LSO"/>
</g>
<use href="#comp" x="146.5" y="55.0"/>
<use href="#sbar" x="13.45" y="119.95"/>
</g>
<g transform="translate(369.3,157.05)">
<rect x="0.20" y="19.20" width="174.00" height="126.55" fill="#fff" stroke="#5a5a5a" stroke-width="0.95"/>
<rect x="0" y="0" width="174.4" height="20.2" fill="#000"/>
<text transform="skewY(0.05)" x="87.6" y="15.2" font-size="12.65" font-style="italic" fill="#fff" stroke="#fff" stroke-width="0.18" text-anchor="middle">Rickettsia massiliae</text>
<g transform="translate(0,-0.25)" fill="#d9d9d9" stroke="#4e4e4e" stroke-width="1.2" stroke-linejoin="round">
<use href="#DZA" fill="#FEDD7F"/>
<use href="#AGO"/>
<use href="#BEN"/>
<use href="#BWA"/>
<use href="#BFA"/>
<use href="#BDI"/>
<use href="#CMR"/>
<use href="#CAF" fill="#FFEFA5"/>
<use href="#TCD"/>
<use href="#COG"/>
<use href="#COD"/>
<use href="#CIV" fill="#FFFFCC"/>
<use href="#DJI"/>
<use href="#EGY"/>
<use href="#GNQ"/>
<use href="#ERI"/>
<use href="#ETH"/>
<use href="#GAB"/>
<use href="#GMB"/>
<use href="#GHA"/>
<use href="#GIN"/>
<use href="#GNB"/>
<use href="#KEN"/>
<use href="#LBR"/>
<use href="#LBY"/>
<use href="#MDG"/>
<use href="#MWI"/>
<use href="#MLI"/>
<use href="#MRT"/>
<use href="#MAR"/>
<use href="#ESH"/>
<use href="#MOZ"/>
<use href="#NAM"/>
<use href="#NER"/>
<use href="#NGA"/>
<use href="#RWA"/>
<use href="#SEN"/>
<use href="#SLE"/>
<use href="#SOM"/>
<use href="#ZAF"/>
<use href="#SSD"/>
<use href="#SDN"/>
<use href="#TZA"/>
<use href="#TGO"/>
<use href="#TUN"/>
<use href="#UGA"/>
<use href="#ZMB"/>
<use href="#ZWE"/>
<use href="#SWZ"/>
<use href="#LSO"/>
</g>
<use href="#comp" x="146.5" y="55.0"/>
<use href="#sbar" x="13.45" y="119.95"/>
</g>
<g transform="translate(5.35,309.45)">
<rect x="0.15" y="19.20" width="174.00" height="126.55" fill="#fff" stroke="#5a5a5a" stroke-width="0.95"/>
<rect x="0" y="0" width="174.4" height="20.2" fill="#000"/>
<text transform="skewY(0.05)" x="87.6" y="15.2" font-size="12.65" font-style="italic" fill="#fff" stroke="#fff" stroke-width="0.18" text-anchor="middle">Rickettsia conorii</text>
<g transform="translate(0,-0.25)" fill="#d9d9d9" stroke="#4e4e4e" stroke-width="1.2" stroke-linejoin="round">
<use href="#DZA" fill="#FFFFCC"/>
<use href="#AGO"/>
<use href="#BEN"/>
<use href="#BWA"/>
<use href="#BFA"/>
<use href="#BDI"/>
<use href="#CMR"/>
<use href="#CAF" fill="#FFF8B8"/>
<use href="#TCD"/>
<use href="#COG"/>
<use href="#COD"/>
<use href="#CIV"/>
<use href="#DJI"/>
<use href="#EGY"/>
<use href="#GNQ"/>
<use href="#ERI"/>
<use href="#ETH"/>
<use href="#GAB"/>
<use href="#GMB"/>
<use href="#GHA"/>
<use href="#GIN"/>
<use href="#GNB"/>
<use href="#KEN"/>
<use href="#LBR"/>
<use href="#LBY"/>
<use href="#MDG"/>
<use href="#MWI"/>
<use href="#MLI"/>
<use href="#MRT"/>
<use href="#MAR"/>
<use href="#ESH"/>
<use href="#MOZ"/>
<use href="#NAM"/>
<use href="#NER"/>
<use href="#NGA"/>
<use href="#RWA"/>
<use href="#SEN"/>
<use href="#SLE"/>
<use href="#SOM"/>
<use href="#ZAF" fill="#FFF4AC"/>
<use href="#SSD"/>
<use href="#SDN"/>
<use href="#TZA"/>
<use href="#TGO"/>
<use href="#TUN" fill="#FD9D43"/>
<use href="#UGA"/>
<use href="#ZMB"/>
<use href="#ZWE"/>
<use href="#SWZ"/>
<use href="#LSO"/>
</g>
<use href="#comp" x="146.5" y="55.0"/>
<use href="#sbar" x="13.45" y="119.95"/>
</g>
<g transform="translate(187.3,309.45)">
<rect x="0.20" y="19.20" width="174.00" height="126.55" fill="#fff" stroke="#5a5a5a" stroke-width="0.95"/>
<rect x="0" y="0" width="174.4" height="20.2" fill="#000"/>
<text transform="skewY(0.05)" x="87.6" y="15.2" font-size="12.65" font-style="italic" fill="#fff" stroke="#fff" stroke-width="0.18" text-anchor="middle">Coxiella spp.</text>
<g transform="translate(0,-0.25)" fill="#d9d9d9" stroke="#4e4e4e" stroke-width="1.2" stroke-linejoin="round">
<use href="#DZA"/>
<use href="#AGO"/>
<use href="#BEN"/>
<use href="#BWA"/>
<use href="#BFA"/>
<use href="#BDI"/>
<use href="#CMR"/>
<use href="#CAF"/>
<use href="#TCD"/>
<use href="#COG"/>
<use href="#COD"/>
<use href="#CIV"/>
<use href="#DJI"/>
<use href="#EGY" fill="#FFFFCC"/>
<use href="#GNQ"/>
<use href="#ERI"/>
<use href="#ETH" fill="#FFF8B8"/>
<use href="#GAB"/>
<use href="#GMB"/>
<use href="#GHA"/>
<use href="#GIN"/>
<use href="#GNB"/>
<use href="#KEN" fill="#FDAE4A"/>
<use href="#LBR"/>
<use href="#LBY"/>
<use href="#MDG"/>
<use href="#MWI"/>
<use href="#MLI"/>
<use href="#MRT"/>
<use href="#MAR"/>
<use href="#ESH"/>
<use href="#MOZ"/>
<use href="#NAM"/>
<use href="#NER"/>
<use href="#NGA"/>
<use href="#RWA"/>
<use href="#SEN"/>
<use href="#SLE"/>
<use href="#SOM"/>
<use href="#ZAF"/>
<use href="#SSD"/>
<use href="#SDN"/>
<use href="#TZA"/>
<use href="#TGO"/>
<use href="#TUN"/>
<use href="#UGA"/>
<use href="#ZMB"/>
<use href="#ZWE"/>
<use href="#SWZ"/>
<use href="#LSO"/>
</g>
<use href="#comp" x="146.5" y="55.0"/>
<use href="#sbar" x="13.45" y="119.95"/>
</g>
<g transform="translate(369.3,309.45)">
<rect x="0.20" y="19.20" width="174.00" height="126.55" fill="#fff" stroke="#5a5a5a" stroke-width="0.95"/>
<rect x="0" y="0" width="174.4" height="20.2" fill="#000"/>
<text transform="skewY(0.05)" x="87.6" y="15.2" font-size="12.65" font-style="italic" fill="#fff" stroke="#fff" stroke-width="0.18" text-anchor="middle">Coxiella burnetii</text>
<g transform="translate(0,-0.25)" fill="#d9d9d9" stroke="#4e4e4e" stroke-width="1.2" stroke-linejoin="round">
<use href="#DZA" fill="#FFFFCC"/>
<use href="#AGO"/>
<use href="#BEN"/>
<use href="#BWA"/>
<use href="#BFA"/>
<use href="#BDI"/>
<use href="#CMR"/>
<use href="#CAF"/>
<use href="#TCD"/>
<use href="#COG"/>
<use href="#COD"/>
<use href="#CIV" fill="#FFF6AE"/>
<use href="#DJI"/>
<use href="#EGY" fill="#FFFFCC"/>
<use href="#GNQ"/>
<use href="#ERI"/>
<use href="#ETH" fill="#FFF6AE"/>
<use href="#GAB"/>
<use href="#GMB"/>
<use href="#GHA"/>
<use href="#GIN"/>
<use href="#GNB"/>
<use href="#KEN"/>
<use href="#LBR"/>
<use href="#LBY"/>
<use href="#MDG"/>
<use href="#MWI"/>
<use href="#MLI"/>
<use href="#MRT"/>
<use href="#MAR"/>
<use href="#ESH"/>
<use href="#MOZ"/>
<use href="#NAM"/>
<use href="#NER"/>
<use href="#NGA"/>
<use href="#RWA"/>
<use href="#SEN" fill="#FFF3A6"/>
<use href="#SLE"/>
<use href="#SOM"/>
<use href="#ZAF" fill="#FFFBBE"/>
<use href="#SSD"/>
<use href="#SDN"/>
<use href="#TZA"/>
<use href="#TGO"/>
<use href="#TUN" fill="#FFFFCC"/>
<use href="#UGA"/>
<use href="#ZMB"/>
<use href="#ZWE"/>
<use href="#SWZ"/>
<use href="#LSO"/>
</g>
<use href="#comp" x="146.5" y="55.0"/>
<use href="#sbar" x="13.45" y="119.95"/>
</g>
</svg></body></html>
